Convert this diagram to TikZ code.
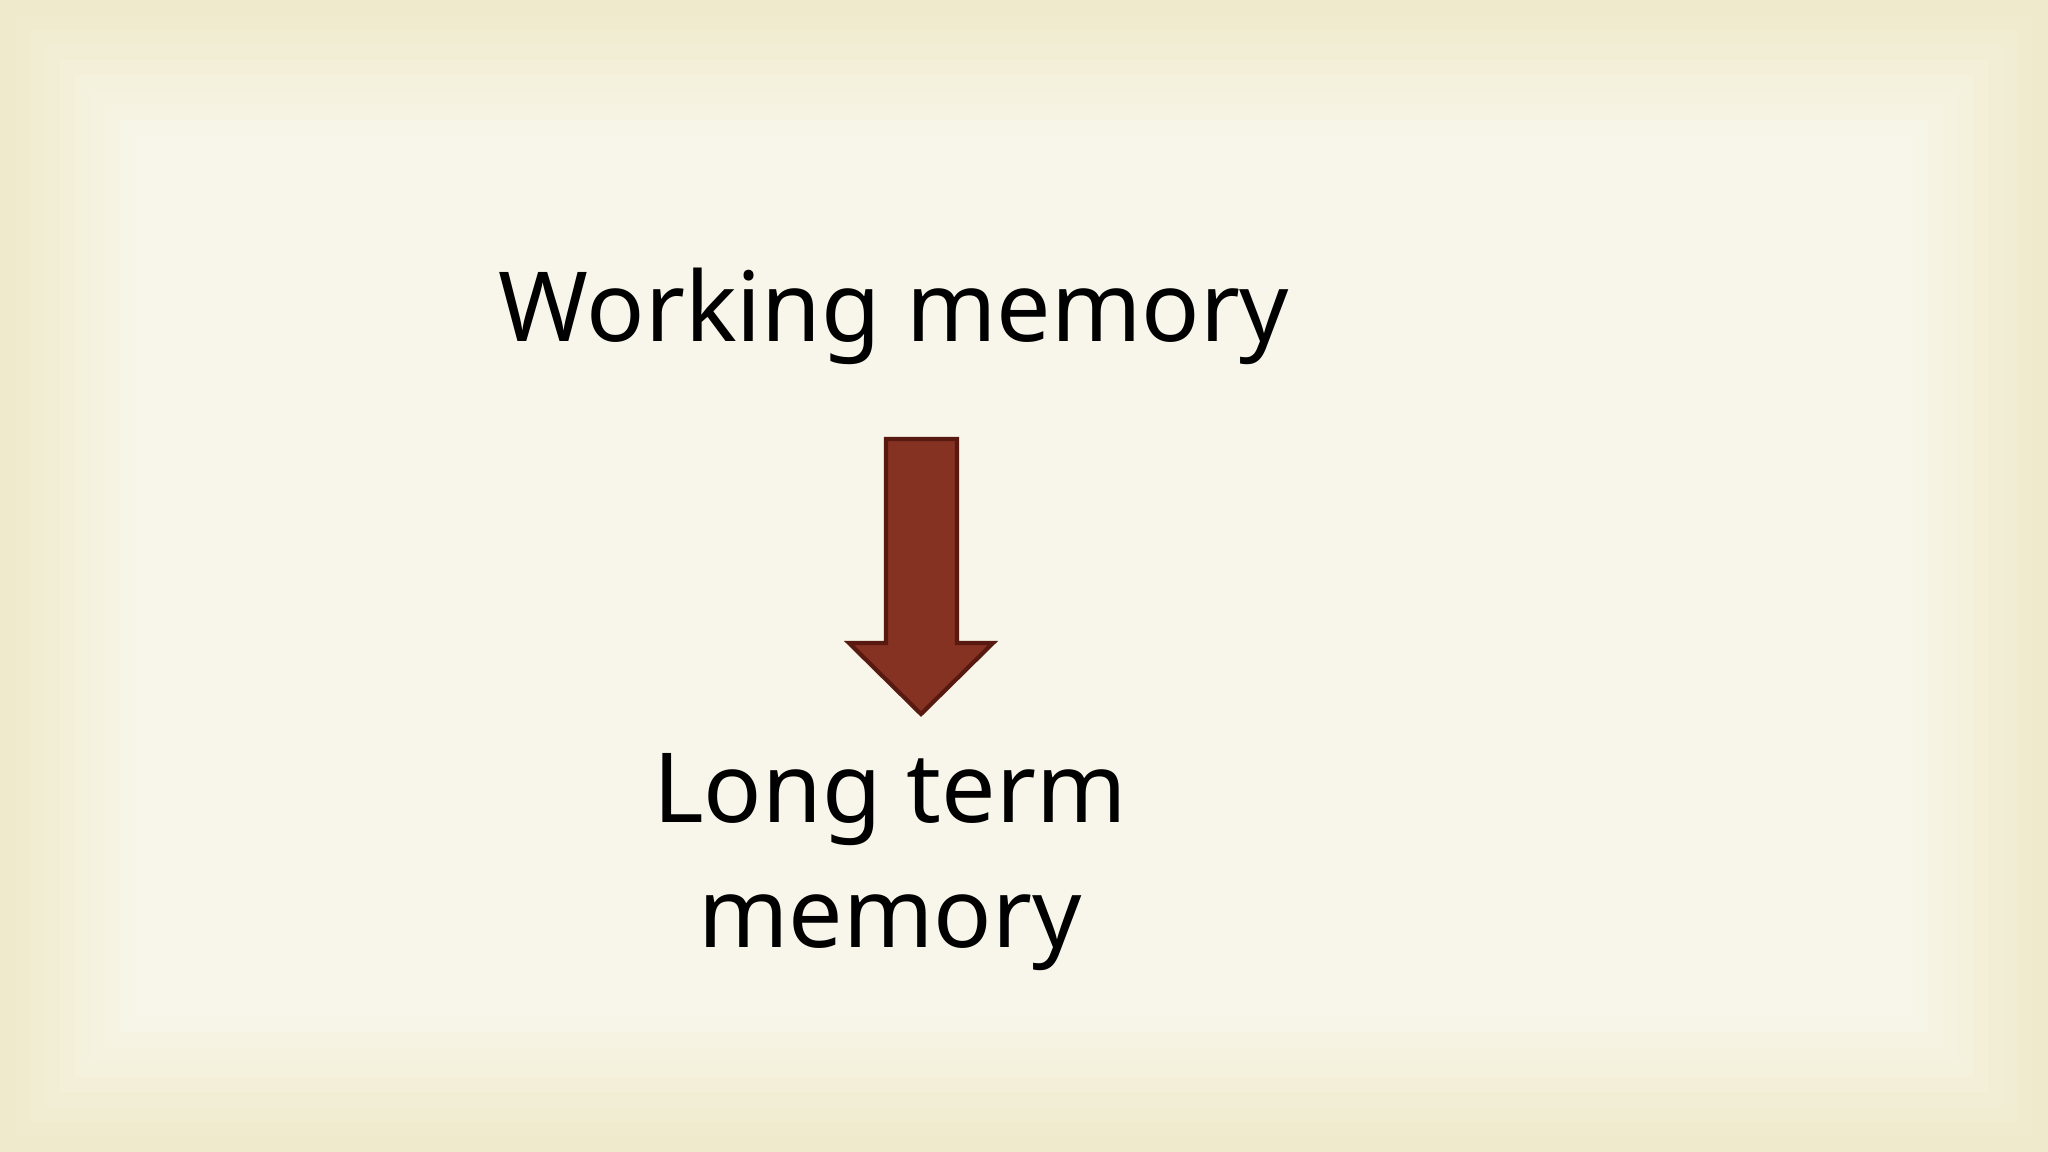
\documentclass[tikz,border=0pt]{standalone}
\usepackage{fontspec}
\setmainfont{Noto Sans}
\definecolor{paper}{RGB}{248,246,234}
\definecolor{paperedge}{RGB}{239,234,204}
\definecolor{arrowfill}{RGB}{133,50,35}
\definecolor{arrowline}{RGB}{88,26,16}
\begin{document}
\begin{tikzpicture}[x=0.01cm,y=-0.01cm]
\tikzstyle{label}=[inner sep=0pt,anchor=base,font=\fontsize{27.5}{35.3}\selectfont,align=center]
\tikzstyle{blockarrow}=[fill=arrowfill,draw=arrowline,line width=1.2pt,line join=miter]
 \useasboundingbox (0,0) rectangle (2048,1152);
 % vignette border
 \foreach \i in {0,...,9}{
   \pgfmathtruncatemacro{\mixv}{\i*11}
   \fill[paper!\mixv!paperedge]
     (\i*15,\i*15) rectangle (2048-\i*15,1152-\i*15);
 }
 \node[label] (wm) at (894,342) {Working memory};
 % base of a two line node sits on its last line
 \node[label] (ltm) at (890,947) {Long term\\memory};
 \draw[blockarrow] (886,439) -- (957,439) -- (957,643) -- (993,643) -- (921,714)
   -- (849,643) -- (886,643) -- cycle;
\end{tikzpicture}
\end{document}
